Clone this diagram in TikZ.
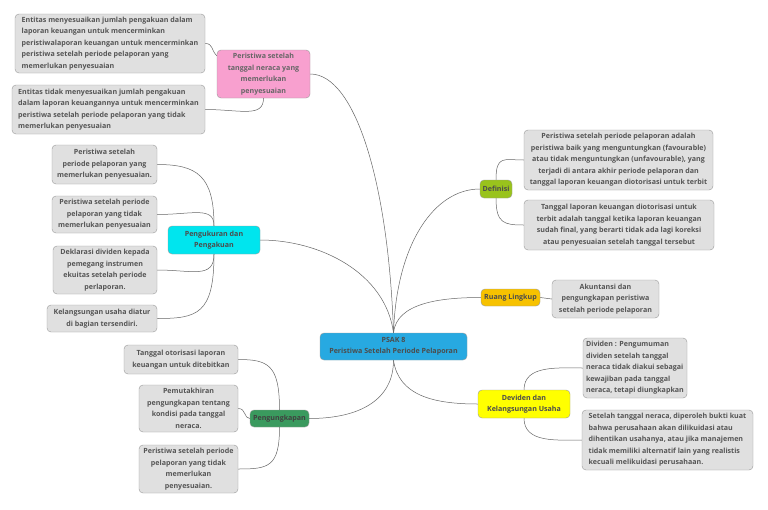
\documentclass[tikz,border=0pt]{standalone}
\usepackage{fontspec}
\setmainfont{Open Sans}
\usetikzlibrary{backgrounds}

\definecolor{leaffill}{HTML}{E0E0E0}
\definecolor{leafline}{HTML}{9A9A9A}
\definecolor{leaftext}{HTML}{555555}
\definecolor{rootblue}{HTML}{27A9E1}
\definecolor{topicpink}{HTML}{F8A0CF}
\definecolor{topiclime}{HTML}{99C31C}
\definecolor{topicgold}{HTML}{F7C200}
\definecolor{topicyellow}{HTML}{FFFF00}
\definecolor{topiccyan}{HTML}{00E5EE}
\definecolor{topicgreen}{HTML}{3A9A5E}

\tikzset{
  mapfont/.style={font=\fontsize{7.1}{11.5}\selectfont\bfseries},
  topic/.style={mapfont, rounded corners=4pt, draw=leafline, inner sep=0pt, align=center, text=leaftext},
  leaf/.style={topic, fill=leaffill},
  branch/.style={draw=black!60, line width=0.5pt},
}

\begin{document}
\begin{tikzpicture}[x=1pt, y=-1pt]
  \useasboundingbox (0,0) rectangle (768,509);

  \node[topic, fill=rootblue, text=black!70, minimum width=147pt, minimum height=27pt] (psak) at (393.5,346.5) {PSAK 8\\Peristiwa Setelah Periode Pelaporan};

  \node[topic, fill=topicpink, text=black!60, minimum width=93pt, minimum height=48pt] (post-event) at (263.5,74) {Peristiwa setelah\\tanggal neraca yang\\memerlukan\\penyesuaian};
  \node[leaf, align=left, minimum width=190pt, minimum height=59pt] (post-event-adj) at (110,43.5) {Entitas menyesuaikan jumlah pengakuan dalam\\laporan keuangan untuk mencerminkan\\peristiwalaporan keuangan untuk mencerminkan\\peristiwa setelah periode pelaporan yang\\memerlukan penyesuaian};
  \node[leaf, align=left, minimum width=193pt, minimum height=49pt] (post-event-nonadj) at (108.5,109.5) {Entitas tidak menyesuaikan jumlah pengakuan\\dalam laporan keuangannya untuk mencerminkan\\peristiwa setelah periode pelaporan yang tidak\\memerlukan penyesuaian};

  \node[topic, fill=topiclime, text=black!70, minimum width=32pt, minimum height=18pt] (definition) at (496,189) {Definisi};
  \node[leaf, minimum width=189pt, minimum height=60pt] (definition-event) at (618.5,160) {Peristiwa setelah periode pelaporan adalah\\peristiwa baik yang menguntungkan (favourable)\\atau tidak menguntungkan (unfavourable), yang\\terjadi di antara akhir periode pelaporan dan\\tanggal laporan keuangan diotorisasi untuk terbit};
  \node[leaf, minimum width=190pt, minimum height=50pt] (definition-date) at (619,225) {Tanggal laporan keuangan diotorisasi untuk\\terbit adalah tanggal ketika laporan keuangan\\sudah final, yang berarti tidak ada lagi koreksi\\atau penyesuaian setelah tanggal tersebut};

  \node[topic, fill=topicgold, text=black!70, minimum width=59pt, minimum height=17pt] (scope) at (510.5,297.5) {Ruang Lingkup};
  \node[leaf, minimum width=107pt, minimum height=38pt] (scope-text) at (605.5,299) {Akuntansi dan\\pengungkapan peristiwa\\setelah periode pelaporan};

  \node[topic, fill=topicyellow, text=black!70, minimum width=92pt, minimum height=28pt] (dividend) at (524,404) {Deviden dan\\Kelangsungan Usaha};
  \node[leaf, align=left, minimum width=104pt, minimum height=60pt] (dividend-text) at (635,368) {Dividen : Pengumuman\\dividen setelah tanggal\\neraca tidak diakui sebagai\\kewajiban pada tanggal\\neraca, tetapi diungkapkan};
  \node[leaf, align=left, minimum width=171pt, minimum height=60pt] (going-concern) at (667.5,440) {Setelah tanggal neraca, diperoleh bukti kuat\\bahwa perusahaan akan dilikuidasi atau\\dihentikan usahanya, atau jika manajemen\\tidak memiliki alternatif lain yang realistis\\kecuali melikuidasi perusahaan.};

  \node[topic, fill=topiccyan, text=black!70, minimum width=92pt, minimum height=28pt] (measure) at (214,240) {Pengukuran dan\\Pengakuan};
  \node[leaf, minimum width=105pt, minimum height=39pt] (measure-adj) at (104.5,164.5) {Peristiwa setelah\\periode pelaporan yang\\memerlukan penyesuaian.};
  \node[leaf, minimum width=105pt, minimum height=37pt] (measure-nonadj) at (104.5,214.5) {Peristiwa setelah periode\\pelaporan yang tidak\\memerlukan penyesuaian};
  \node[leaf, minimum width=104pt, minimum height=48pt] (measure-dividend) at (105,270) {Deklarasi dividen kepada\\pemegang instrumen\\ekuitas setelah periode\\perlaporan.};
  \node[leaf, minimum width=110pt, minimum height=27pt] (measure-concern) at (102,318.5) {Kelangsungan usaha diatur\\di bagian tersendiri.};

  \node[topic, fill=topicgreen, text=black!75, minimum width=59pt, minimum height=17pt] (disclosure) at (279.5,418.5) {Pengungkapan};
  \node[leaf, minimum width=114pt, minimum height=29pt] (disclosure-date) at (181,359.5) {Tanggal otorisasi laporan\\keuangan untuk ditebitkan};
  \node[leaf, minimum width=99pt, minimum height=47pt] (disclosure-update) at (188.5,408.5) {Pemutakhiran\\pengungkapan tentang\\kondisi pada tanggal\\neraca.};
  \node[leaf, minimum width=99pt, minimum height=48pt] (disclosure-nonadj) at (188.5,469) {Peristiwa setelah periode\\pelaporan yang tidak\\memerlukan\\penyesuaian.};

  \begin{scope}[on background layer]
    \fill[white] (0,0) rectangle (768,509);
    \draw[branch] (psak.north) .. controls +(-5,-150) and +(45,0) .. (post-event.east);
    \draw[branch] (psak.north) .. controls +(3,-90) and +(-45,0) .. (definition.west);
    \draw[branch] (psak.north) .. controls +(-8,-60) and +(60,0) .. (measure.east);
    \draw[branch] (psak.north) .. controls +(3,-30) and +(-40,0) .. (scope.west);
    \draw[branch] (psak.south) .. controls +(0,40) and +(50,0) .. (disclosure.east);
    \draw[branch] (psak.south) .. controls +(5,35) and +(-45,0) .. (dividend.west);

    \draw[branch] ([yshift=-6pt]post-event.north west) .. controls +(-6,-6) and +(8,0) .. (post-event-adj.east);
    \draw[branch] (post-event.south) .. controls +(0,20) and +(35,0) .. (post-event-nonadj.east);

    \draw[branch] (definition.north) .. controls +(0,-25) and +(-20,0) .. (definition-event.west);
    \draw[branch] (definition.south) .. controls +(0,25) and +(-20,0) .. (definition-date.west);

    \draw[branch] (scope.east) -- (scope-text.west);

    \draw[branch] (dividend.north) .. controls +(0,-25) and +(-25,0) .. (dividend-text.west);
    \draw[branch] (dividend.south) .. controls +(0,25) and +(-25,0) .. (going-concern.west);

    \draw[branch] (measure.north) .. controls +(0,-50) and +(40,0) .. (measure-adj.east);
    \draw[branch] (measure.north) .. controls +(0,-20) and +(35,0) .. (measure-nonadj.east);
    \draw[branch] (measure.south) .. controls +(0,25) and +(35,0) .. (measure-dividend.east);
    \draw[branch] (measure.south) .. controls +(0,60) and +(40,0) .. (measure-concern.east);

    \draw[branch] (disclosure.north) .. controls +(0,-45) and +(30,0) .. (disclosure-date.east);
    \draw[branch] (disclosure.west) .. controls +(-6,0) and +(8,0) .. (disclosure-update.east);
    \draw[branch] (disclosure.south) .. controls +(0,40) and +(30,0) .. (disclosure-nonadj.east);
  \end{scope}
\end{tikzpicture}
\end{document}
